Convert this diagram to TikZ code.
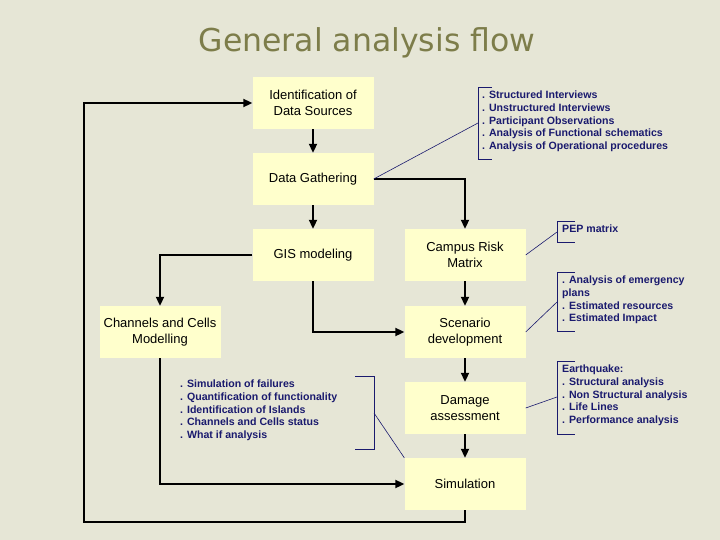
\documentclass[tikz,border=0pt]{standalone}
\usepackage{fontspec}
\setmainfont{Liberation Sans}
\newfontfamily\titlefont{DejaVu Sans}
\usetikzlibrary{arrows.meta}
\definecolor{bg}{HTML}{E6E6D6}
\definecolor{boxfill}{HTML}{FFFFCC}
\definecolor{notecol}{HTML}{1A1A6E}
\definecolor{titlecol}{HTML}{7D7D4A}
\tikzset{
  stage/.style={fill=boxfill, minimum width=121pt, minimum height=52pt, align=center, font=\fontsize{13}{15.5}\selectfont},
  flow/.style={line width=2pt, -{Triangle[length=9pt,width=8pt]}},
  note/.style={text=notecol, font=\bfseries\fontsize{10.6}{12.7}\selectfont, align=left, inner sep=0pt},
  brace/.style={draw=notecol, line width=0.8pt},
}
\begin{document}
\begin{tikzpicture}[x=1pt,y=-1pt]
  \useasboundingbox[fill=bg] (0,0) rectangle (720,540);
  \node[text=titlecol, font=\titlefont\fontsize{31.5}{36}\selectfont] (title) at (367,43) {General analysis flow};

  \node[stage] (ident) at (313,103) {Identification of\\Data Sources};
  \node[stage] (gather) at (313,179) {Data Gathering};
  \node[stage] (gis) at (313,255) {GIS modeling};
  \node[stage] (campus) at (465,255) {Campus Risk\\Matrix};
  \node[stage] (scen) at (465,332) {Scenario\\development};
  \node[stage] (damage) at (465,408) {Damage\\assessment};
  \node[stage] (sim) at (465,484) {Simulation};
  \node[stage] (chan) at (160,332) {Channels and Cells\\Modelling};
  \coordinate (loop) at (84,522);

  \draw[flow] (ident) -- (gather);
  \draw[flow] (gather) -- (gis);
  \draw[flow] (gather.east) -| (campus);
  \draw[flow] (campus) -- (scen);
  \draw[flow] (scen) -- (damage);
  \draw[flow] (damage) -- (sim);
  \draw[flow] (gis.west) -| (chan);
  \draw[flow] (gis.south) |- (scen.west);
  \draw[flow] (chan.south) |- (sim.west);
  \draw[flow] (sim.south) |- (loop) |- (ident.west);

  % notes
  \node[note, anchor=north west] (n1) at (482,91) {. Structured Interviews\\. Unstructured Interviews\\. Participant Observations\\. Analysis of Functional schematics\\. Analysis of Operational procedures};
  \draw[brace] (492,87) -| (478,159) -- (492,159);
  \coordinate (b1) at (478,123);
  \draw[notecol, line width=0.6pt] (gather.east) -- (b1);

  \node[note, anchor=north west] (n2) at (562,225) {PEP matrix};
  \draw[brace] (575,221) -| (557,242) -- (575,242);
  \coordinate (b2) at (557,232);
  \draw[notecol, line width=0.6pt] (campus.east) -- (b2);

  \node[note, anchor=north west] (n3) at (562,276) {. Analysis of emergency\\plans\\. Estimated resources\\. Estimated Impact};
  \draw[brace] (575,272) -| (557,331) -- (575,331);
  \coordinate (b3) at (557,302);
  \draw[notecol, line width=0.6pt] (scen.east) -- (b3);

  \node[note, anchor=north west] (n4) at (562,365) {Earthquake:\\. Structural analysis\\. Non Structural analysis\\. Life Lines\\. Performance analysis};
  \draw[brace] (575,361) -| (557,434) -- (575,434);
  \coordinate (b4) at (557,397);
  \draw[notecol, line width=0.6pt] (damage.east) -- (b4);

  \node[note, anchor=north west] (n5) at (180,380) {. Simulation of failures\\. Quantification of functionality\\. Identification of Islands\\. Channels and Cells status\\. What if analysis};
  \draw[brace] (355,376) -| (374,449) -- (355,449);
  \coordinate (b5) at (374,413);
  \draw[notecol, line width=0.6pt] (b5) -- (sim.north west);
\end{tikzpicture}
\end{document}
